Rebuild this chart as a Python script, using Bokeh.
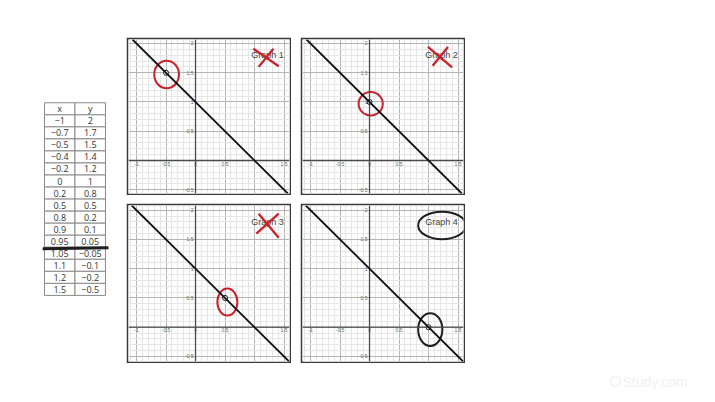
from bokeh.plotting import figure
from bokeh.layouts import row, column, Spacer
from bokeh.models import Range1d, Grid, SingleIntervalTicker, Span, Slope
from bokeh.core.properties import value
from bokeh.embed import file_html
from bokeh.resources import INLINE

# ---------------- data ----------------
table_header = ["x", "y"]
table_x_labels = ["−1", "−0.7", "−0.5", "−0.4", "−0.2", "0", "0.2", "0.5",
                  "0.8", "0.9", "0.95", "1.05", "1.1", "1.2", "1.5"]
table_y_labels = ["2", "1.7", "1.5", "1.4", "1.2", "1", "0.8", "0.5",
                  "0.2", "0.1", "0.05", "−0.05", "−0.1", "−0.2", "−0.5"]
line_slope = -1.0
line_intercept = 1.0
x_tick_values = [-1, -0.5, 0, 0.5, 1.5]
x_tick_labels = ["-1", "-0.5", "0", "0.5", "1.5"]
y_tick_values = [2, 1.5, 1, 0.5, -0.5]
y_tick_labels = ["2", "1.5", "1", "0.5", "-0.5"]
graph_titles = ["Graph 1", "Graph 2", "Graph 3", "Graph 4"]
highlight_x = [-0.5, 0, 0.5, 1]
highlight_y = [1.5, 1, 0.5, 0]

RED = "#c8232c"
INK = "#1e1e1e"
FONT = value("Liberation Sans")

# ---------------- table ----------------
tf = figure(width=118, height=386, x_range=Range1d(-1.68, 2.19),
            y_range=Range1d(23.73, -8.33), x_axis_type=None, y_axis_type=None,
            output_backend="svg", toolbar_location=None, min_border=0,
            outline_line_color=None, background_fill_color="white",
            border_fill_color="white")
n_rows = len(table_x_labels) + 1
cx, cy, ct = [], [], []
for r in range(n_rows):
    for c in range(2):
        cx.append(c)
        cy.append(r)
        if r == 0:
            ct.append(table_header[c])
        else:
            ct.append(table_x_labels[r - 1] if c == 0 else table_y_labels[r - 1])
tf.rect(x=cx, y=cy, width=1, height=1, fill_color="white",
        line_color="#8a8a8a", line_width=1)
tf.text(x=cx, y=cy, text=ct, text_align="center", text_baseline="middle",
        text_font=value("Open Sans"), text_font_size=value("9px"),
        text_color="#333333")
# hand-drawn separator line
tf.line(x=[-0.56, 1.6], y=[11.63, 11.55], line_width=3, line_color=INK)

# ---------------- graphs ----------------
x_marks = [
    [[0.98, 1.41], [1.32, 1.07]],
    [[0.99, 1.40], [1.33, 1.07]],
    [[1.07, 1.41], [1.41, 1.03]],
]
y_marks = [
    [[1.91, 1.61], [1.91, 1.60]],
    [[1.94, 1.59], [1.94, 1.62]],
    [[1.94, 1.53], [1.94, 1.60]],
]
circle_geo = [(0.01, -0.03, 0.42, 0.47), (0.02, -0.03, 0.41, 0.40),
              (0.04, -0.07, 0.34, 0.46), (0.03, -0.04, 0.41, 0.56)]


def make_graph(i, h, yr):
    p = figure(width=165, height=h, x_range=Range1d(-1.136, 1.593),
               y_range=Range1d(*yr), x_axis_type=None, y_axis_type=None,
               output_backend="svg", toolbar_location=None, min_border=2,
               outline_line_color=None,
               background_fill_color="white", border_fill_color="#3a3a3a")
    for dim in (0, 1):
        p.add_layout(Grid(dimension=dim,
                          ticker=SingleIntervalTicker(interval=0.5, num_minor_ticks=5),
                          grid_line_color="#b4b4b4", grid_line_width=1,
                          minor_grid_line_color="#e6e6e6", minor_grid_line_width=1),
                     "center")
    p.add_layout(Span(location=0, dimension="width", line_color="#4a4a4a", line_width=1.3))
    p.add_layout(Span(location=0, dimension="height", line_color="#4a4a4a", line_width=1.3))
    p.text(x=x_tick_values, y=[0] * len(x_tick_values), text=x_tick_labels,
           text_align="center", text_baseline="top", y_offset=1,
           text_font=FONT, text_font_size=value("5px"), text_color="#666666")
    p.text(x=[0] * len(y_tick_values), y=y_tick_values, text=y_tick_labels,
           text_align="right", text_baseline="middle", x_offset=-2,
           text_font=FONT, text_font_size=value("5px"), text_color="#666666")
    p.add_layout(Slope(gradient=line_slope, y_intercept=line_intercept,
                       line_color="#111111", line_width=1.8))
    p.scatter(x=[highlight_x[i]], y=[highlight_y[i]], marker="circle", size=5,
              fill_color="white", line_color="#111111", line_width=1)
    p.text(x=[1.22], y=[1.80], text=[graph_titles[i]], text_align="center",
           text_baseline="middle", text_font=FONT, text_font_size=value("9px"),
           text_color="#444444")
    dx, dy, w, hh = circle_geo[i]
    color = RED if i < 3 else INK
    p.ellipse(x=[highlight_x[i] + dx], y=[highlight_y[i] + dy], width=w, height=hh,
              fill_color=None, line_color=color, line_width=2)
    if i < 3:
        p.multi_line(xs=x_marks[i], ys=y_marks[i], line_color=RED, line_width=2.3)
    else:
        p.ellipse(x=[1.23], y=[1.74], width=0.81, height=0.47,
                  fill_color=None, line_color=INK, line_width=2)
    return p


g1 = make_graph(0, 158, (-0.564, 2.068))
g2 = make_graph(1, 158, (-0.564, 2.068))
g3 = make_graph(2, 160, (-0.586, 2.080))
g4 = make_graph(3, 160, (-0.586, 2.080))

# ---------------- watermark ----------------
wf = figure(width=242, height=386, x_range=Range1d(0, 242), y_range=Range1d(386, 0),
            x_axis_type=None, y_axis_type=None, output_backend="svg",
            toolbar_location=None, min_border=0, outline_line_color=None,
            background_fill_color="white", border_fill_color="white")
wf.scatter(x=[150], y=[373], marker="circle", size=10, fill_color=None,
           line_color="#f1f1f1", line_width=1.5)
wf.text(x=[157], y=[373], text=["Study.com"], text_align="left",
        text_baseline="middle", text_font=FONT, text_font_size=value("14px"),
        text_color="#f1f1f1")

graphs = column(Spacer(height=29), row(g1, Spacer(width=9), g2),
                Spacer(height=8), row(g3, Spacer(width=9), g4))
layout = column(Spacer(height=8), row(Spacer(width=8), tf, graphs, wf))

open("out.html", "w").write(file_html(layout, INLINE))
